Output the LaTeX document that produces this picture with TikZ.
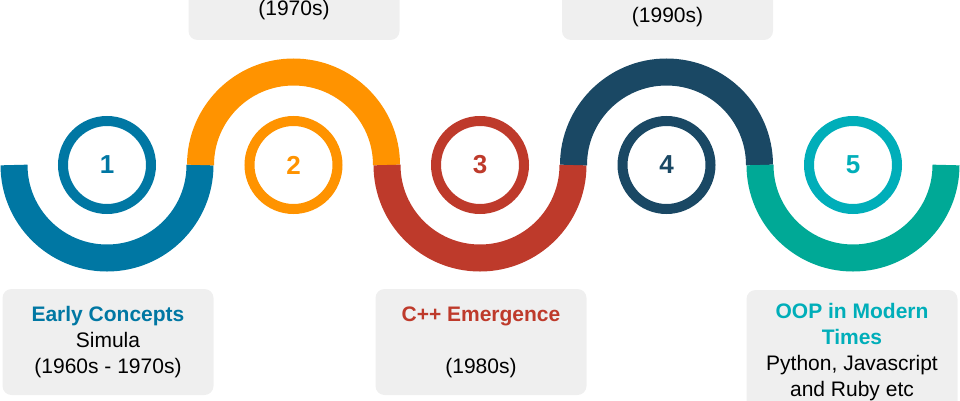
\documentclass[tikz,border=0pt]{standalone}
\usepackage{fontspec}
\setmainfont{Liberation Sans}
\usetikzlibrary{positioning}
\definecolor{eraBlue}{HTML}{0077A3}
\definecolor{eraOrange}{HTML}{FF9300}
\definecolor{eraRed}{HTML}{BE3A2B}
\definecolor{eraNavy}{HTML}{1A4864}
\definecolor{eraGreen}{HTML}{00A996}
\definecolor{eraCyan}{HTML}{00AEB9}
\definecolor{boxGray}{HTML}{EFEFEF}

\begin{document}
\begin{tikzpicture}[x=1pt,y=1pt]
    \useasboundingbox (0,0) rectangle (960,400);
    \clip (0,0) rectangle (960,400);
    %%%%% THE WAVE
    \begin{scope}[line width=27pt]
      \draw[eraBlue] (14,235) arc[start angle=180,end angle=360,radius=93pt];
      \draw[eraOrange] (200.5,235) arc[start angle=180,end angle=0,radius=93pt];
      \draw[eraRed] (387,235) arc[start angle=180,end angle=360,radius=93pt];
      \draw[eraNavy] (573.5,235) arc[start angle=180,end angle=0,radius=93pt];
      \draw[eraGreen] (760,235) arc[start angle=180,end angle=360,radius=93pt];
    \end{scope}
    %%%%% THE RINGS
    \begin{scope}[every node/.style={shape=circle,draw,line width=10pt,
        minimum size=88pt,inner sep=0pt,font=\fontsize{26}{30}\selectfont\bfseries}]
      \node[eraBlue] (ring1) at (107,235) {1};
      \node[eraOrange] (ring2) at (293.5,235) {2};
      \node[eraRed] (ring3) at (480,235) {3};
      \node[eraNavy] (ring4) at (666.5,235) {4};
      \node[eraCyan] (ring5) at (853,235) {5};
    \end{scope}
    %%%%% THE BOXES
    \begin{scope}[every node/.style={fill=boxGray,rounded corners=9pt,minimum width=211pt,
        minimum height=106pt,align=center,inner sep=0pt,font=\fontsize{21}{26}\selectfont}]
      \node (box1) at (108,58) {\textcolor{eraBlue}{\bfseries Early Concepts}\\Simula\\(1960s - 1970s)};
      \node (box2) at (294,413) {};
      \node (box3) at (481,58) {\textcolor{eraRed}{\bfseries C++ Emergence}\\[26pt](1980s)};
      \node (box4) at (667.5,413) {};
      \node[minimum height=124pt] (box5) at (852,48) {\textcolor{eraCyan}{\bfseries OOP in Modern}\\
        \textcolor{eraCyan}{\bfseries Times}\\Python, Javascript\\and Ruby etc};
    \end{scope}
    %%%% YEARS IN THE TOP BOXES
    \begin{scope}[every node/.style={font=\fontsize{21}{26}\selectfont}]
      \node (year2) at (294,390) {(1970s)};
      \node (year4) at (667.5,383) {(1990s)};
    \end{scope}
  \end{tikzpicture}
\end{document}
